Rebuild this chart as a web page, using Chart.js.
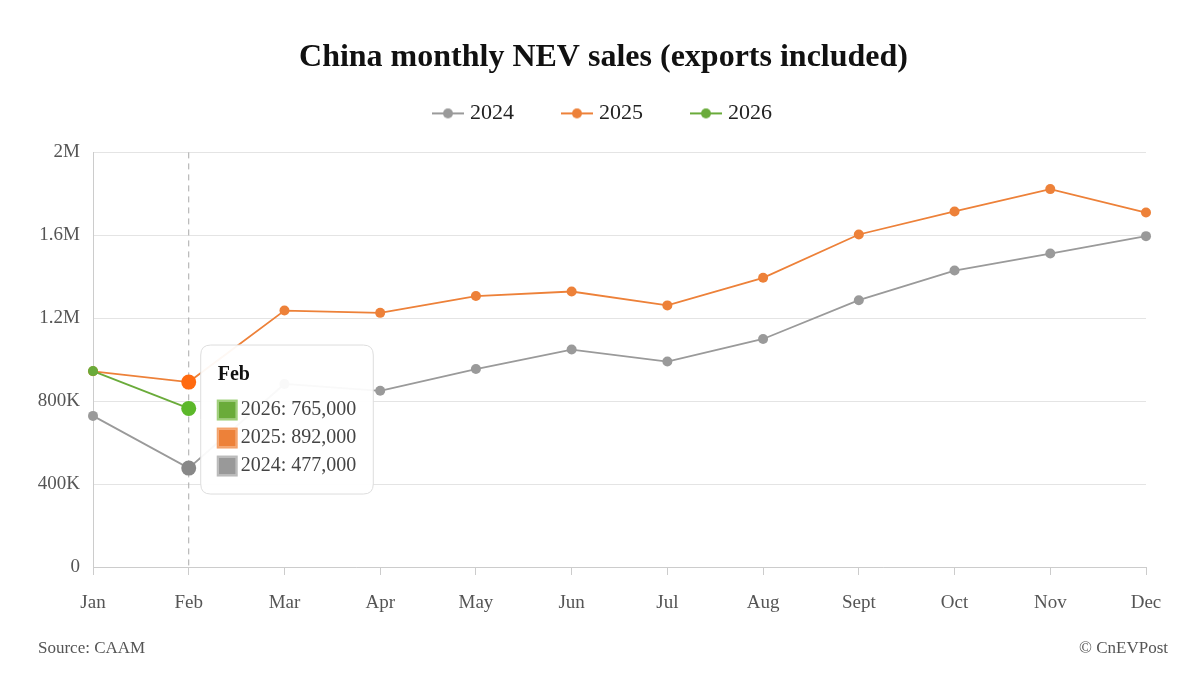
<!DOCTYPE html>
<html>
<head>
<meta charset="utf-8">
<script src="https://cdn.jsdelivr.net/npm/chart.js@4"></script>
<style>
  body { margin: 0; background: #fff; }
  #wrap { position: relative; width: 1200px; height: 676px; }
  .foot { position: absolute; top: 638px; font-family: "Liberation Serif", serif; font-size: 17px; color: #555; }
</style>
</head>
<body>
<div id="wrap">
  <canvas id="myChart" width="1200" height="676"></canvas>
  <div class="foot" style="left:38px">Source: CAAM</div>
  <div class="foot" style="right:32px">© CnEVPost</div>
</div>
<script>
// meses e vendas mensais (unidades)
const meses = ['Jan', 'Feb', 'Mar', 'Apr', 'May', 'Jun', 'Jul', 'Aug', 'Sept', 'Oct', 'Nov', 'Dec'];
const vendas2024 = [729000, 477000, 883000, 850000, 955000, 1049000, 991000, 1100000, 1287000, 1430000, 1512000, 1596000];
const vendas2025 = [944000, 892000, 1237000, 1226000, 1307000, 1329000, 1262000, 1395000, 1604000, 1715000, 1823000, 1710000];
const vendas2026 = [945000, 765000];
const ticksY = [0, 400000, 800000, 1200000, 1600000, 2000000];
const rotulosY = ['0', '400K', '800K', '1.2M', '1.6M', '2M'];
const mesAtivo = 1; // Feb

const fonte = '"Liberation Serif", "Times New Roman", serif';

// ícone da legenda: linha com bolinha, encostado à direita do canvas
function iconeLegenda(cor) {
    const c = document.createElement('canvas');
    c.width = 74; c.height = 14;
    const g = c.getContext('2d');
    g.strokeStyle = cor; g.lineWidth = 2;
    g.beginPath(); g.moveTo(42, 7); g.lineTo(74, 7); g.stroke();
    g.fillStyle = cor;
    g.beginPath(); g.arc(58, 7, 5, 0, Math.PI * 2); g.fill();
    return c;
}

// linha tracejada vertical no mês ativo
const linhaVertical = {
    id: 'linhaVertical',
    beforeDatasetsDraw(chart) {
        const ativos = chart.tooltip.getActiveElements();
        if (!ativos.length) return;
        const x = ativos[0].element.x;
        const { top, bottom } = chart.chartArea;
        const ctx = chart.ctx;
        ctx.save();
        ctx.strokeStyle = '#aaa';
        ctx.lineWidth = 1;
        ctx.setLineDash([6, 5]);
        ctx.beginPath();
        ctx.moveTo(x, top);
        ctx.lineTo(x, bottom);
        ctx.stroke();
        ctx.restore();
    }
};

// espaço extra abaixo da legenda e ajuste horizontal
const ajusteLegenda = {
    id: 'ajusteLegenda',
    beforeInit(chart) {
        const fitOriginal = chart.legend.fit;
        chart.legend.fit = function () {
            fitOriginal.bind(chart.legend)();
            this.height += 18;
        };
    },
    afterLayout(chart) {
        chart.legend.left -= 20;
        chart.legend.right -= 20;
    }
};

const ctx = document.getElementById('myChart').getContext('2d');
const myChart = new Chart(ctx, {
    type: 'line',
    data: {
        labels: meses,
        datasets: [{
            label: '2024',
            data: vendas2024,
            order: 3,
            borderColor: '#9a9a9a',
            backgroundColor: '#9a9a9a',
            pointHoverBackgroundColor: '#888',
            pointHoverBorderColor: '#888'
        }, {
            label: '2025',
            data: vendas2025,
            order: 2,
            borderColor: '#ed8139',
            backgroundColor: '#ed8139',
            pointHoverBackgroundColor: '#ff6a10',
            pointHoverBorderColor: '#ff6a10'
        }, {
            label: '2026',
            data: vendas2026,
            order: 1,
            borderColor: '#6aab3a',
            backgroundColor: '#6aab3a',
            pointHoverBackgroundColor: '#5cb82a',
            pointHoverBorderColor: '#5cb82a'
        }]
    },
    options: {
        responsive: false,
        animation: false,
        events: [],
        interaction: { mode: 'index', intersect: false },
        elements: {
            line: { borderWidth: 1.8, tension: 0 },
            point: { radius: 5, hoverRadius: 7.5, borderWidth: 0, hoverBorderWidth: 0 }
        },
        layout: { padding: { top: 0, right: 0, bottom: 60, left: 7 } },
        plugins: {
            title: {
                display: true,
                text: 'China monthly NEV sales (exports included)',
                color: '#111',
                font: { family: fonte, size: 32, weight: 'bold' },
                padding: { top: 39, bottom: 15 }
            },
            legend: {
                labels: {
                    color: '#222',
                    font: { family: fonte, size: 22 },
                    usePointStyle: true,
                    pointStyleWidth: 64,
                    padding: 10,
                    generateLabels(chart) {
                        return chart.data.datasets.map((ds, i) => ({
                            text: ds.label,
                            fillStyle: ds.backgroundColor,
                            strokeStyle: ds.borderColor,
                            fontColor: '#222',
                            pointStyle: iconeLegenda(ds.borderColor),
                            datasetIndex: i,
                            hidden: false
                        }));
                    }
                }
            },
            tooltip: {
                position: 'average',
                xAlign: 'left',
                yAlign: 'center',
                caretSize: 0,
                caretPadding: 12,
                backgroundColor: 'rgba(255,255,255,0.94)',
                borderColor: '#ddd',
                borderWidth: 1,
                cornerRadius: 10,
                padding: { top: 18, bottom: 16, left: 17, right: 17 },
                titleColor: '#111',
                bodyColor: '#444',
                titleFont: { family: fonte, size: 20, weight: 'bold' },
                bodyFont: { family: fonte, size: 20 },
                titleMarginBottom: 11,
                bodySpacing: 4,
                boxWidth: 19,
                boxHeight: 19,
                boxPadding: 2,
                itemSort: (a, b) => b.datasetIndex - a.datasetIndex,
                callbacks: {
                    label: (item) => item.dataset.label + ': ' + item.raw.toLocaleString('en-US'),
                    labelColor: (item) => ({
                        borderColor: ['#bbb', '#f4a36c', '#9fd07a'][item.datasetIndex],
                        backgroundColor: ['#999', '#ed8139', '#6aab3a'][item.datasetIndex],
                        borderWidth: 2
                    })
                }
            }
        },
        scales: {
            x: {
                offset: false,
                grid: { display: true, drawOnChartArea: false, drawTicks: true, tickLength: 8, color: '#ccc' },
                border: { color: '#ccc' },
                ticks: { color: '#555', font: { family: fonte, size: 19 }, padding: 17 },
                afterFit: (s) => { s.height = 49; }
            },
            y: {
                min: 0,
                max: 2000000,
                afterBuildTicks: (s) => { s.ticks = ticksY.map(v => ({ value: v })); },
                grid: { color: '#e4e4e4', drawTicks: false },
                border: { color: '#ccc' },
                ticks: {
                    color: '#555',
                    font: { family: fonte, size: 19 },
                    padding: 13,
                    callback: (v) => rotulosY[ticksY.indexOf(v)]
                },
                afterFit: (s) => { s.width = 86; }
            },
            // eixo vazio à direita só para reservar a margem
            margem: {
                position: 'right',
                grid: { display: false },
                border: { display: false },
                ticks: { display: false },
                afterFit: (s) => { s.width = 54; }
            }
        }
    },
    plugins: [linhaVertical, ajusteLegenda]
});

// deixa o mês de fevereiro ativo com o tooltip aberto
const ativos = myChart.data.datasets
    .map((ds, i) => ({ datasetIndex: i, index: mesAtivo }));
myChart.setActiveElements(ativos);
const meta = myChart.getDatasetMeta(0).data[mesAtivo];
myChart.tooltip.setActiveElements(ativos, { x: meta.x, y: meta.y });
myChart.update();
</script>
</body>
</html>
